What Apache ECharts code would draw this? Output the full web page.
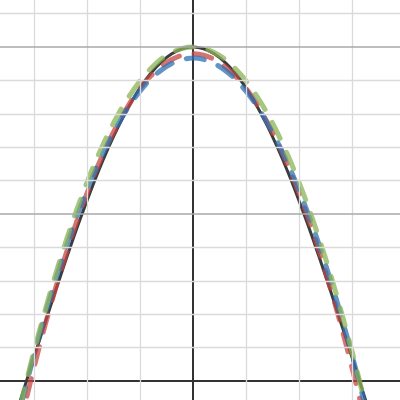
<!DOCTYPE html>
<html>
<head>
<meta charset="utf-8">
<script src="https://cdn.jsdelivr.net/npm/echarts@6/dist/echarts.min.js"></script>
<style>html,body{margin:0;padding:0;background:#fff}#c{width:400px;height:400px}</style>
</head>
<body>
<div id="c"></div>
<script>
// x positions (read along the horizontal axis, grid step 0.5)
const xValues = [-1.9,-1.8,-1.7,-1.6,-1.5,-1.4,-1.3,-1.2,-1.1,-1.0,-0.9,-0.8,-0.7,-0.6,-0.5,-0.4,-0.3,-0.2,-0.1,0,
  0.1,0.2,0.3,0.4,0.5,0.6,0.7,0.8,0.9,1.0,1.1,1.2,1.3,1.4,1.5,1.6,1.7,1.8,1.9];
// solid dark curve
const blackCurve = [-0.323,-0.227,-0.129,-0.029,0.071,0.170,0.267,0.362,0.454,0.540,0.622,0.697,0.765,0.825,0.878,0.921,0.955,0.980,0.995,1.000,
  0.995,0.980,0.955,0.921,0.878,0.825,0.765,0.697,0.622,0.540,0.454,0.362,0.267,0.170,0.071,-0.029,-0.129,-0.227,-0.323];
// red dashed curve
const redCurve = [-0.528,-0.373,-0.227,-0.089,0.040,0.162,0.274,0.379,0.475,0.562,0.642,0.713,0.775,0.830,0.876,0.913,0.942,0.963,0.976,0.980,
  0.976,0.963,0.942,0.913,0.876,0.830,0.775,0.713,0.642,0.562,0.475,0.379,0.274,0.162,0.040,-0.089,-0.227,-0.373,-0.528];
// blue dashed curve
const blueCurve = [-0.459,-0.313,-0.175,-0.044,0.078,0.193,0.299,0.398,0.489,0.572,0.647,0.714,0.773,0.825,0.868,0.904,0.931,0.951,0.963,0.967,
  0.963,0.951,0.931,0.904,0.868,0.825,0.773,0.714,0.647,0.572,0.489,0.398,0.299,0.193,0.078,-0.044,-0.175,-0.313,-0.459];
// green dashed curve
const greenCurve = [-0.462,-0.312,-0.170,-0.037,0.089,0.206,0.316,0.417,0.510,0.595,0.672,0.741,0.802,0.854,0.899,0.935,0.964,0.984,0.996,1.000,
  0.996,0.984,0.964,0.935,0.899,0.854,0.802,0.741,0.672,0.595,0.510,0.417,0.316,0.206,0.089,-0.037,-0.170,-0.312,-0.462];
// grid levels
const gridX = [-1.5, -1.0, -0.5, 0.5, 1.0, 1.5];
const minorY = [0.1, 0.2, 0.3, 0.4, 0.6, 0.7, 0.8, 0.9, 1.1];
const majorY = [0.5, 1.0];
// visible window
const xMin = -1.821, xMax = 1.953, yMin = -0.057, yMax = 1.141;

const pairs = ys => xValues.map((x, i) => [x, ys[i]]);
const dashed = (name, ys, color) => ({
  name, type: 'line', data: pairs(ys), smooth: 0.3, symbol: 'none', z: 4,
  lineStyle: { color, width: 5, opacity: 0.75, type: [18, 15], cap: 'round' }
});

const chart = echarts.init(document.getElementById('c'));
chart.setOption({
  animation: false,
  backgroundColor: '#fff',
  grid: { left: 0, right: 0, top: 0, bottom: 0, containLabel: false },
  xAxis: {
    type: 'value', min: xMin, max: xMax,
    axisLine: { onZero: true, lineStyle: { color: '#333', width: 2 } },
    axisTick: { show: false }, axisLabel: { show: false },
    splitLine: { show: false }
  },
  yAxis: {
    type: 'value', min: yMin, max: yMax,
    axisLine: { onZero: true, lineStyle: { color: '#333', width: 2 } },
    axisTick: { show: false }, axisLabel: { show: false },
    splitLine: { show: false }
  },
  series: [
    {
      name: 'grid-minor', type: 'line', data: [], silent: true, z: 1,
      markLine: {
        silent: true, symbol: 'none', label: { show: false }, animation: false,
        lineStyle: { color: '#dadada', width: 1.3, type: 'solid' },
        data: gridX.map(v => ({ xAxis: v })).concat(minorY.map(v => ({ yAxis: v })))
      }
    },
    {
      name: 'grid-major', type: 'line', data: [], silent: true, z: 1,
      markLine: {
        silent: true, symbol: 'none', label: { show: false }, animation: false,
        lineStyle: { color: '#a8a8a8', width: 1.6, type: 'solid' },
        data: majorY.map(v => ({ yAxis: v }))
      }
    },
    {
      name: 'main', type: 'line', data: pairs(blackCurve), smooth: 0.3, symbol: 'none', z: 3,
      lineStyle: { color: '#3c3c3c', width: 3 }
    },
    dashed('red', redCurve, '#c74440'),
    dashed('blue', blueCurve, '#2d70b3'),
    dashed('green', greenCurve, '#8ab356')
  ]
});
</script>
</body>
</html>
